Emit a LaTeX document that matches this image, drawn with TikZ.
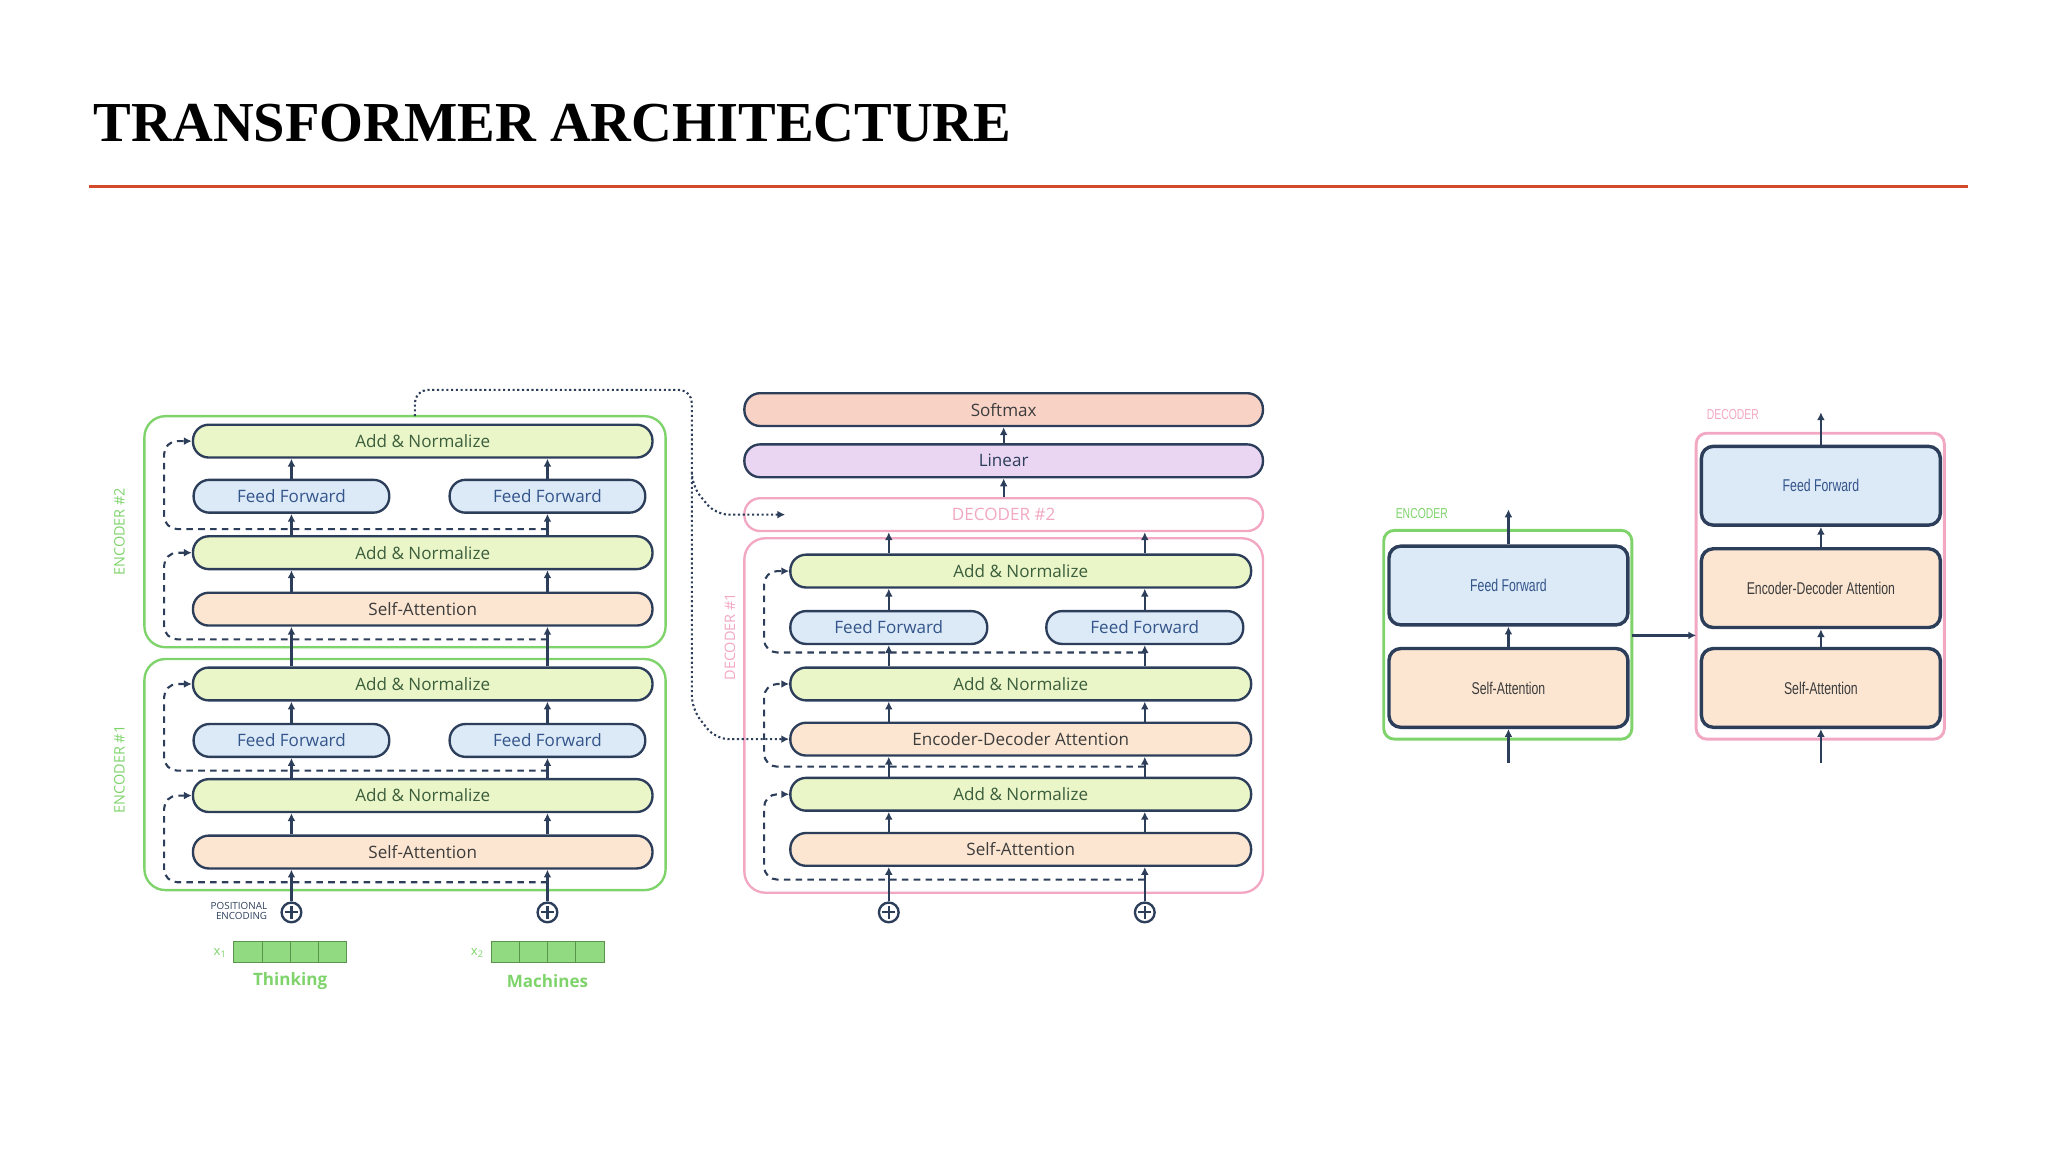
\documentclass[tikz,border=0pt]{standalone}
\usepackage{fontspec}
\setmainfont{Liberation Serif}
\newfontfamily\dia{Open Sans}
\newfontfamily\narrow{Liberation Sans}[FakeStretch=0.72]
\usetikzlibrary{arrows.meta, calc}
\definecolor{gbox}{HTML}{7ED36B}
\definecolor{pbox}{HTML}{F2A7C3}
\definecolor{dark}{HTML}{2C3E5A}
\definecolor{anfill}{HTML}{EAF5C8}
\definecolor{fffill}{HTML}{DCEAF8}
\definecolor{safill}{HTML}{FCE6D2}
\definecolor{smfill}{HTML}{F9D2C6}
\definecolor{linfill}{HTML}{EAD6F3}
\definecolor{titlered}{HTML}{D24A2A}
\definecolor{antext}{HTML}{3B5E3C}
\definecolor{fftext}{HTML}{34558A}
\definecolor{satext}{HTML}{3C3C3C}
\begin{document}
\begin{tikzpicture}[x=1pt, y=-1pt,
    pill/.style={draw=dark, line width=1.8pt, rounded corners=12pt, minimum height=25pt,
        inner sep=0pt, font=\dia\fontsize{13}{13}\selectfont},
    an/.style={pill, fill=anfill, text=antext},
    ff/.style={pill, fill=fffill, text=fftext},
    sa/.style={pill, fill=safill, text=satext},
    blk/.style={draw=dark, line width=2.6pt, rounded corners=9pt, minimum height=60pt,
        minimum width=180pt, inner sep=0pt, font=\narrow\fontsize{13}{13}\selectfont},
    encbox/.style={draw=gbox, line width=1.8pt, rounded corners=16pt},
    decbox/.style={draw=pbox, line width=1.8pt, rounded corners=16pt},
    arr/.style={draw=dark, line width=1.6pt, -{Latex[length=6pt,width=6pt]}},
    res/.style={draw=dark, line width=1.6pt, dashed, dash pattern=on 5pt off 4pt,
        rounded corners=10pt, -{Latex[length=6pt,width=6pt]}},
    dot/.style={draw=dark, line width=1.6pt, dotted, rounded corners=10pt,
        -{Latex[length=6pt,width=6pt]}},
    plus/.style={circle, draw=dark, line width=1.8pt, minimum size=15pt, inner sep=0pt,
        path picture={\draw[dark, line width=1.6pt]
            ($(path picture bounding box.center)+(-5pt,0)$) -- ++(10pt,0)
            ($(path picture bounding box.center)+(0,-5pt)$) -- ++(0,10pt);}},
    vlab/.style={rotate=90, font=\dia\fontsize{11}{11}\selectfont},
]
\useasboundingbox (0,0) rectangle (1560,877.5);

% title
\node[anchor=base west, font=\fontsize{43}{43}\selectfont\bfseries] (title) at (68,108)
    {TRANSFORMER ARCHITECTURE};
\draw[titlered, line width=2.5pt] (68,142) -- (1499,142);

% column guides
\coordinate (c1) at (222,0);
\coordinate (c2) at (417,0);
\coordinate (d1) at (677,0);
\coordinate (d2) at (872,0);

% ---------------- encoders ----------------
\draw[encbox] (110,317) rectangle (507,493);
\draw[encbox] (110,502) rectangle (507,678);
\node[vlab, text=gbox] (e2lab) at (91,405) {ENCODER \#2};
\node[vlab, text=gbox] (e1lab) at (91,586) {ENCODER \#1};

\node[an, minimum width=350pt] (e2an2) at (322,336) {Add \& Normalize};
\node[ff, minimum width=149pt] (e2ffa) at (222,378) {Feed Forward};
\node[ff, minimum width=149pt] (e2ffb) at (417,378) {Feed Forward};
\node[an, minimum width=350pt] (e2an1) at (322,421) {Add \& Normalize};
\node[sa, minimum width=350pt] (e2sa) at (322,464) {Self-Attention};

\node[an, minimum width=350pt] (e1an2) at (322,521) {Add \& Normalize};
\node[ff, minimum width=149pt] (e1ffa) at (222,564) {Feed Forward};
\node[ff, minimum width=149pt] (e1ffb) at (417,564) {Feed Forward};
\node[an, minimum width=350pt] (e1an1) at (322,606) {Add \& Normalize};
\node[sa, minimum width=350pt] (e1sa) at (322,649) {Self-Attention};

\node[plus] (p1) at (222,695) {};
\node[plus] (p2) at (417,695) {};
\node[anchor=east, align=right, text=dark, font=\dia\fontsize{7.5}{8}\selectfont] (pos)
    at (207,694) {POSITIONAL\\ENCODING};

\foreach \c/\n in {c1/1, c2/2} {
  \draw[arr] (p\n.north) -- (e1sa.south -| \c);
  \draw[arr] (e1sa.north -| \c) -- (e1an1.south -| \c);
  \draw[arr] (e1an2.north -| \c) -- (e2sa.south -| \c);
  \draw[arr] (e2sa.north -| \c) -- (e2an1.south -| \c);
}
\draw[arr] (e1an1.north -| c1) -- (e1ffa.south);
\draw[arr] (e1an1.north -| c2) -- (e1ffb.south);
\draw[arr] (e1ffa.north) -- (e1an2.south -| c1);
\draw[arr] (e1ffb.north) -- (e1an2.south -| c2);
\draw[arr] (e2an1.north -| c1) -- (e2ffa.south);
\draw[arr] (e2an1.north -| c2) -- (e2ffb.south);
\draw[arr] (e2ffa.north) -- (e2an2.south -| c1);
\draw[arr] (e2ffb.north) -- (e2an2.south -| c2);

% residual connections
\draw[res] (417,672) -- (125,672) -- (125,606) -- (e1an1.west);
\draw[res] (417,587) -- (125,587) -- (125,521) -- (e1an2.west);
\draw[res] (417,487) -- (125,487) -- (125,421) -- (e2an1.west);
\draw[res] (417,403) -- (125,403) -- (125,336) -- (e2an2.west);

% inputs
\foreach \x/\n/\w/\s in {178/1/Thinking/1, 374/2/Machines/2} {
  \foreach \k in {0,...,3}
    \draw[draw=gbox!70!black, fill=gbox!85, line width=0.6pt]
      (\x+21.5*\k,717) rectangle ++(21.5,16);
  \node[text=gbox, font=\dia\fontsize{10}{10}\selectfont, anchor=east] (x\n) at (\x-2,726)
    {x\textsubscript{\s}};
  \node[text=gbox, font=\dia\bfseries\fontsize{13}{13}\selectfont] (w\n) at (\x+43,747) {\w};
}

% ---------------- decoders ----------------
\node[pill, fill=smfill, text=satext, minimum width=395pt] (soft) at (764.5,312) {Softmax};
\node[pill, fill=linfill, text=dark, minimum width=395pt] (lin) at (764.5,351) {Linear};
\node[pill, draw=pbox, fill=white, text=pbox, line width=1.8pt, minimum width=395pt]
    (dec2) at (764.5,392) {DECODER \#2};
\draw[decbox] (567,410) rectangle (962,680);
\node[vlab, text=pbox] (d1lab) at (556,485) {DECODER \#1};

\node[an, minimum width=351pt] (dan3) at (777.5,435) {Add \& Normalize};
\node[ff, minimum width=150pt] (dffa) at (677,478) {Feed Forward};
\node[ff, minimum width=150pt] (dffb) at (872,478) {Feed Forward};
\node[an, minimum width=351pt] (dan2) at (777.5,521) {Add \& Normalize};
\node[sa, minimum width=351pt] (deda) at (777.5,563) {Encoder-Decoder Attention};
\node[an, minimum width=351pt] (dan1) at (777.5,605) {Add \& Normalize};
\node[sa, minimum width=351pt] (dsa) at (777.5,647) {Self-Attention};
\node[plus] (q1) at (677,695) {};
\node[plus] (q2) at (872,695) {};

\foreach \c/\n in {d1/1, d2/2} {
  \draw[arr] (q\n.north) -- (dsa.south -| \c);
  \draw[arr] (dsa.north -| \c) -- (dan1.south -| \c);
  \draw[arr] (dan1.north -| \c) -- (deda.south -| \c);
  \draw[arr] (deda.north -| \c) -- (dan2.south -| \c);
  \draw[arr] (dan3.north -| \c) -- (dec2.south -| \c);
}
\draw[arr] (dan2.north -| d1) -- (dffa.south);
\draw[arr] (dan2.north -| d2) -- (dffb.south);
\draw[arr] (dffa.north) -- (dan3.south -| d1);
\draw[arr] (dffb.north) -- (dan3.south -| d2);
\draw[arr] (dec2.north) -- (lin.south);
\draw[arr] (lin.north) -- (soft.south);

\draw[res] (872,670) -- (582,670) -- (582,605) -- (dan1.west);
\draw[res] (872,584) -- (582,584) -- (582,521) -- (dan2.west);
\draw[res] (872,497) -- (582,497) -- (582,435) -- (dan3.west);

% encoder output to decoders
\coordinate (eout) at (316,317);
\draw[dot] (eout) -- (316,297) -- (527,297) -- (527,370) -- (545,392) -- ($(dec2.west)+(32,0)$);
\draw[dot] (527,360) -- (527,540) -- (545,563) -- (deda.west);

% ---------------- simplified view ----------------
\draw[encbox, line width=2.2pt, rounded corners=8pt] (1054,404) rectangle (1243,563);
\node[text=gbox, font=\narrow\fontsize{11}{11}\selectfont] (elab) at (1083,391) {ENCODER};
\node[blk, fill=fffill, text=fftext, minimum width=182pt] (sff) at (1149,446) {Feed Forward};
\node[blk, fill=safill, text=satext, minimum width=182pt] (ssa) at (1149,524) {Self-Attention};

\draw[decbox, line width=2.2pt, rounded corners=8pt] (1292,330) rectangle (1481,563);
\node[text=pbox, font=\narrow\fontsize{11}{11}\selectfont] (dlab) at (1320,316) {DECODER};
\node[blk, fill=fffill, text=fftext, minimum width=182pt] (tff) at (1387,370) {Feed Forward};
\node[blk, fill=safill, text=satext, minimum width=182pt] (teda) at (1387,448) {Encoder-Decoder Attention};
\node[blk, fill=safill, text=satext, minimum width=182pt] (tsa) at (1387,524) {Self-Attention};

\coordinate (ein) at (1149,581);
\coordinate (eup) at (1149,388);
\coordinate (din) at (1387,581);
\coordinate (dup) at (1387,314);
\draw[arr] (ein) -- (ssa.south);
\draw[arr] (ssa.north) -- (sff.south);
\draw[arr] (sff.north) -- (eup);
\draw[arr] (din) -- (tsa.south);
\draw[arr] (tsa.north) -- (teda.south);
\draw[arr] (teda.north) -- (tff.south);
\draw[arr] (tff.north) -- (dup);
\draw[arr, line width=2.2pt] (1243,484) -- (1292,484);
\end{tikzpicture}
\end{document}
